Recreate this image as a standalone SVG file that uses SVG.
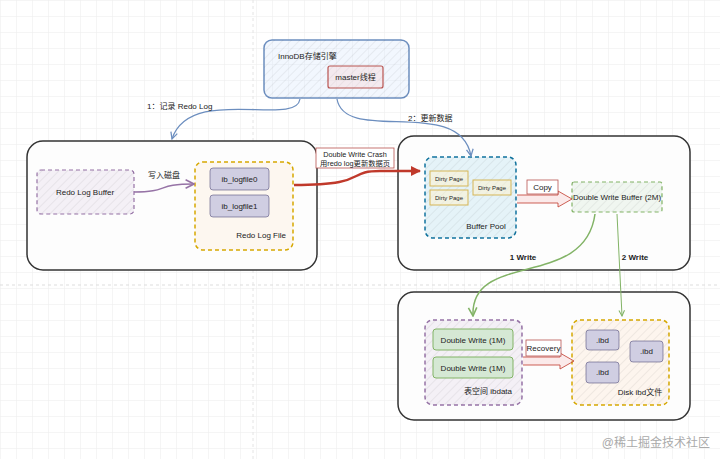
<svg xmlns="http://www.w3.org/2000/svg" width="720" height="459" viewBox="0 0 720 459">
<defs>
<pattern id="grid" width="16" height="16" patternUnits="userSpaceOnUse"><path d="M16 0H0V16" fill="none" stroke="#ececec" stroke-width="1"/></pattern>
<pattern id="hatch" width="6" height="6" patternUnits="userSpaceOnUse" patternTransform="rotate(45)"><line x1="0" y1="0" x2="0" y2="6" stroke="#000" stroke-opacity="0.07" stroke-width="1.5"/></pattern>
<marker id="ab" viewBox="0 0 10 10" refX="9" refY="5" markerWidth="7" markerHeight="7" orient="auto"><path d="M1 1L9 5L1 9" fill="none" stroke="#6c8ebf" stroke-width="1.5"/></marker>
<marker id="ap" viewBox="0 0 10 10" refX="9" refY="5" markerWidth="7" markerHeight="7" orient="auto"><path d="M1 1L9 5L1 9" fill="none" stroke="#9673a6" stroke-width="1.5"/></marker>
<marker id="ar" viewBox="0 0 10 10" refX="9" refY="5" markerWidth="4" markerHeight="4" orient="auto"><path d="M0 0L10 5L0 10Z" fill="#c0392b"/></marker>
<marker id="ag" viewBox="0 0 10 10" refX="9" refY="5" markerWidth="7" markerHeight="7" orient="auto"><path d="M1 1L9 5L1 9" fill="none" stroke="#82b366" stroke-width="1.5"/></marker>
</defs>
<style>
text{font-family:"Liberation Sans","Noto Sans CJK SC",sans-serif;font-size:8px;fill:#222}
.big{fill:#fdfdfd;stroke:#333;stroke-width:1.5}
.hat{fill:url(#hatch)}
.sm{font-size:6px}
.b{font-weight:bold}
.lab{font-size:7.3px}
</style>
<rect width="720" height="459" fill="#fff"/>
<rect width="720" height="459" fill="url(#grid)"/>
<line x1="0" y1="285" x2="720" y2="285" stroke="#ddd" stroke-dasharray="3 3"/>
<line x1="253" y1="0" x2="253" y2="459" stroke="#e4e4e4" stroke-dasharray="3 3"/>

<g id="left-container"><rect class="big" x="27" y="141" width="290" height="129" rx="16"/></g>
<g id="top-right-container"><rect class="big" x="398" y="136" width="292" height="134" rx="16"/></g>
<g id="bottom-container"><rect class="big" x="398" y="292" width="292" height="128" rx="16"/></g>

<g id="innodb"><rect x="264" y="40" width="145" height="58" rx="8" fill="#dae8fc" fill-opacity="0.35" stroke="#6c8ebf" stroke-width="1.5"/><rect class="hat" x="264" y="40" width="145" height="58" rx="8"/><text x="278" y="59">InnoDB存储引擎</text></g>
<g id="master"><rect x="328" y="66" width="55" height="22" rx="2" fill="#f8cecc" fill-opacity="0.3" stroke="#b85450" stroke-width="1.2"/><text x="355.5" y="80" text-anchor="middle">master线程</text></g>

<g id="redo-log-buffer"><rect x="37" y="170" width="97" height="44" rx="4" fill="#e1d5e7" fill-opacity="0.3" stroke="#9673a6" stroke-width="1.2" stroke-dasharray="4 3"/><rect class="hat" x="37" y="170" width="97" height="44"/><text x="85" y="195" text-anchor="middle">Redo Log Buffer</text></g>
<g id="redo-log-file"><rect x="195" y="162" width="98" height="88" rx="8" fill="#ffe6cc" fill-opacity="0.25" stroke="#d6a800" stroke-width="1.5" stroke-dasharray="4 3"/><text x="286" y="238" text-anchor="end">Redo Log File</text></g>
<g id="ib_logfile0"><rect x="210" y="168" width="59" height="22" rx="3" fill="#d0cee2" stroke="#56517e" stroke-width="0.6"/><text x="239.5" y="182" text-anchor="middle">ib_logfile0</text></g>
<g id="ib_logfile1"><rect x="210" y="195" width="59" height="22" rx="3" fill="#d0cee2" stroke="#56517e" stroke-width="0.6"/><text x="239.5" y="209" text-anchor="middle">ib_logfile1</text></g>

<g id="buffer-pool"><rect x="425" y="157" width="91" height="81" rx="8" fill="#b1ddf0" fill-opacity="0.3" stroke="#10739e" stroke-width="1.5" stroke-dasharray="4 3"/><rect class="hat" x="425" y="157" width="91" height="81" rx="8"/><text x="486" y="229" text-anchor="middle">Buffer Pool</text></g>
<g id="dirty1"><rect x="430" y="171" width="38" height="15" fill="#fff2cc" fill-opacity="0.5" stroke="#d6b656"/><text class="sm" x="449" y="181" text-anchor="middle">Dirty Page</text></g>
<g id="dirty2"><rect x="430" y="190" width="38" height="15" fill="#fff2cc" fill-opacity="0.5" stroke="#d6b656"/><text class="sm" x="449" y="200" text-anchor="middle">Dirty Page</text></g>
<g id="dirty3"><rect x="473" y="180" width="38" height="15" fill="#fff2cc" fill-opacity="0.5" stroke="#d6b656"/><text class="sm" x="492" y="190" text-anchor="middle">Dirty Page</text></g>
<g id="dw-buffer"><rect x="572" y="182" width="90" height="30" rx="2" fill="#d5e8d4" fill-opacity="0.3" stroke="#82b366" stroke-width="1.2" stroke-dasharray="4 3"/><rect class="hat" x="572" y="182" width="90" height="30"/><text x="617" y="200" text-anchor="middle">Double Write Buffer (2M)</text></g>

<g id="ibdata"><rect x="425" y="320" width="97" height="85" rx="8" fill="#e1d5e7" fill-opacity="0.3" stroke="#9673a6" stroke-width="1.5" stroke-dasharray="4 3"/><rect class="hat" x="425" y="320" width="97" height="85" rx="8"/><text x="488" y="394" text-anchor="middle">表空间 ibdata</text></g>
<g id="dw1"><rect x="433" y="329" width="80" height="21" rx="3" fill="#d5e8d4" stroke="#82b366"/><text x="473" y="343" text-anchor="middle">Double Write (1M)</text></g>
<g id="dw2"><rect x="433" y="357" width="80" height="21" rx="3" fill="#d5e8d4" stroke="#82b366"/><text x="473" y="371" text-anchor="middle">Double Write (1M)</text></g>
<g id="disk"><rect x="572" y="320" width="97" height="85" rx="8" fill="#ffe6cc" fill-opacity="0.3" stroke="#d6a800" stroke-width="1.5" stroke-dasharray="4 3"/><rect class="hat" x="572" y="320" width="97" height="85" rx="8"/><text x="640" y="395" text-anchor="middle">Disk ibd文件</text></g>
<g id="ibd1"><rect x="586" y="330" width="33" height="20" rx="3" fill="#d0cee2" stroke="#56517e" stroke-width="0.6"/><text x="602.5" y="343" text-anchor="middle">.ibd</text></g>
<g id="ibd2"><rect x="630" y="341" width="33" height="21" rx="3" fill="#d0cee2" stroke="#56517e" stroke-width="0.6"/><text x="646.5" y="354" text-anchor="middle">.ibd</text></g>
<g id="ibd3"><rect x="586" y="362" width="33" height="21" rx="3" fill="#d0cee2" stroke="#56517e" stroke-width="0.6"/><text x="602.5" y="375" text-anchor="middle">.ibd</text></g>

<g id="connectors" fill="none">
<path d="M300 99C296 128 190 84 172 139" stroke="#6c8ebf" stroke-width="1.2" marker-end="url(#ab)"/>
<path d="M337 99C345 145 460 95 471 156" stroke="#6c8ebf" stroke-width="1.2" marker-end="url(#ab)"/>
<path d="M134 192C170 192 155 184 194 184" stroke="#9673a6" stroke-width="1.5" marker-end="url(#ap)"/>
<path d="M294 185C370 185 345 171 380 171L420 171" stroke="#c0392b" stroke-width="2.5" marker-end="url(#ar)"/>
<path d="M517 195L558 195L558 191L572 199L558 207L558 203L517 203" stroke="#c0392b" stroke-width="0.8" fill="#f8cecc" fill-opacity="0.4"/>
<path d="M523 357L560 357L560 353L574 361L560 369L560 365L523 365" stroke="#c0392b" stroke-width="0.8" fill="#f8cecc" fill-opacity="0.4"/>
<path d="M595 214C585 290 470 250 473 316" stroke="#82b366" stroke-width="1.5" marker-end="url(#ag)"/>
<path d="M617 214L622 316" stroke="#82b366" stroke-width="1" marker-end="url(#ag)"/>
</g>

<g id="labels">
<text x="147" y="109">1：记录 Redo Log</text>
<text x="408" y="121">2：更新数据</text>
<text x="148" y="178">写入磁盘</text>
<rect x="316" y="148" width="78" height="20" fill="#fff" stroke="#b85450" stroke-width="0.8"/>
<text class="lab" x="355" y="157" text-anchor="middle">Double Write Crash</text>
<text class="lab" x="355" y="166" text-anchor="middle">用redo log更新数据页</text>
<rect x="527" y="180" width="31" height="14" fill="#fff" stroke="#b85450" stroke-width="0.8"/>
<text x="542.5" y="190" text-anchor="middle">Copy</text>
<rect x="526" y="340" width="35" height="16" fill="#fff" stroke="#b85450" stroke-width="0.8"/>
<text x="543.5" y="351" text-anchor="middle">Recovery</text>
<text class="b" x="523" y="260" text-anchor="middle">1 Write</text>
<text class="b" x="635" y="260" text-anchor="middle">2 Write</text>
</g>
<text x="710" y="447" text-anchor="end" style="font-size:12px;fill:#aaa">@稀土掘金技术社区</text>
</svg>
